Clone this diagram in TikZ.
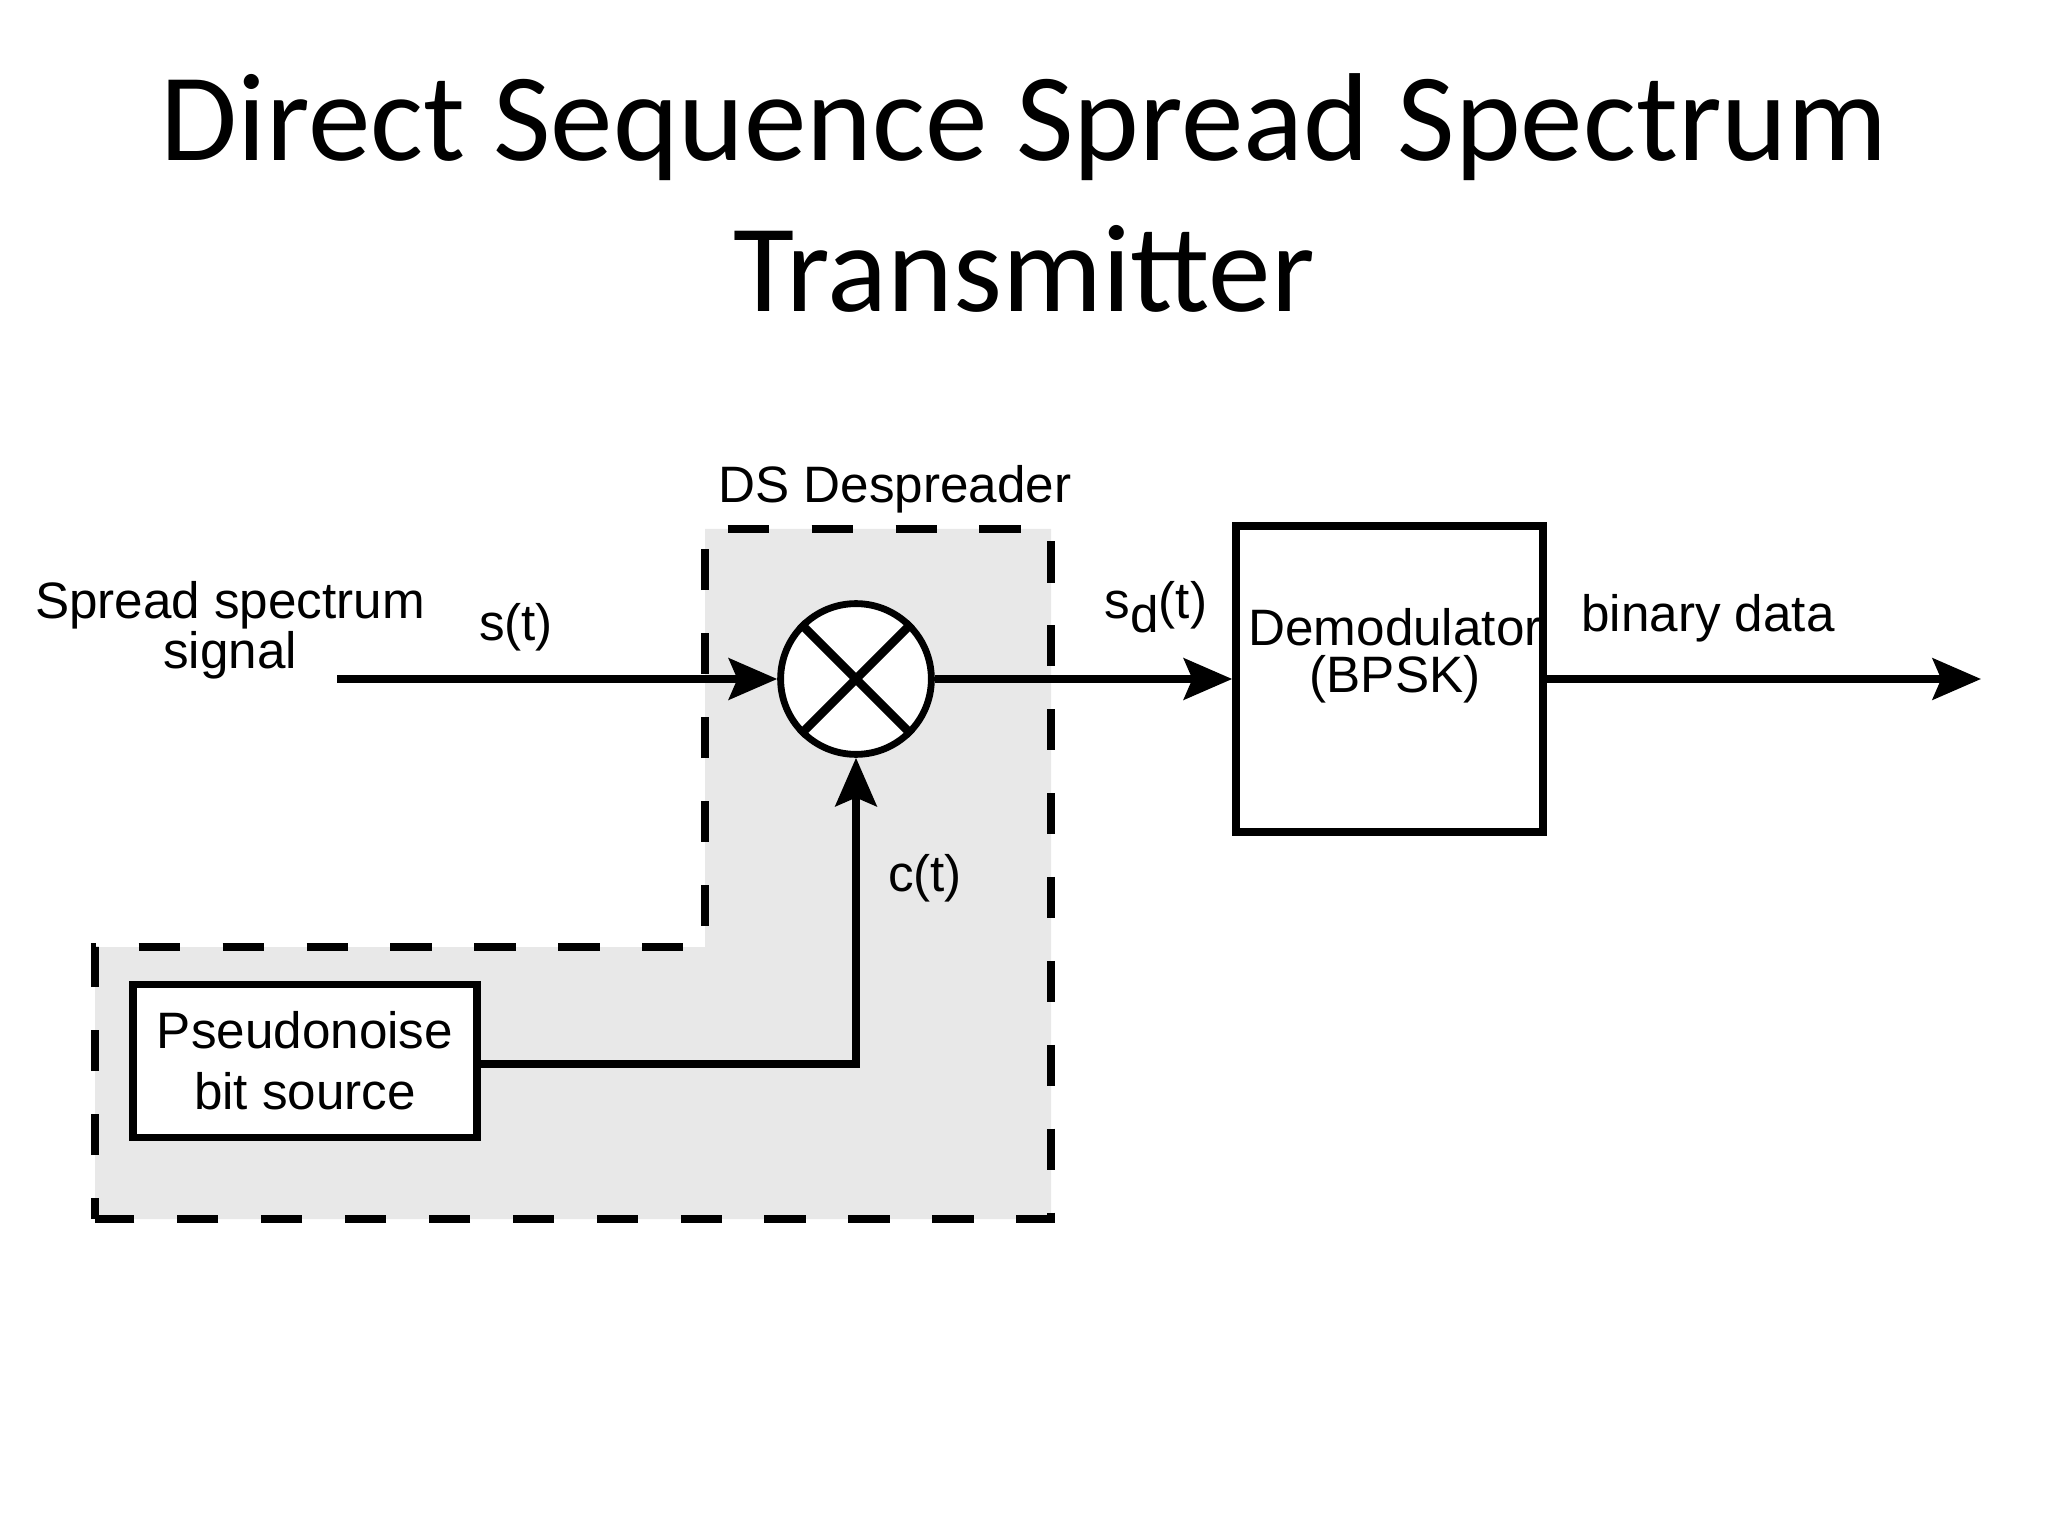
\documentclass[tikz,border=0pt]{standalone}
\usepackage{fontspec}
\setmainfont{Liberation Sans}
\newfontfamily\titlefont{Carlito}
\usetikzlibrary{arrows.meta}
\tikzset{
  lbl/.style={font=\fontsize{18}{21}\selectfont, align=center, inner sep=0pt},
  blk/.style={draw, line width=2.6pt, fill=white, inner sep=0pt, align=center, font=\fontsize{18}{21.5}\selectfont},
  sig/.style={line width=2.6pt, -{Stealth[length=17pt,width=14.5pt,inset=3pt]}},
  dsregion/.style={line width=2.9pt, dash pattern=on 14.5pt off 15pt, dash phase=7pt},
}
\begin{document}
\begin{tikzpicture}[x=0.3515625pt,y=-0.3515625pt]
\useasboundingbox (0,0) rectangle (2048,1536);
% title
\node[font=\titlefont\fontsize{44}{52.8}\selectfont, align=center, inner sep=0pt] (title) at (1024,193) {Direct Sequence Spread Spectrum\\Transmitter};
% despreader region
\fill[gray!18] (705,529) -- (1051,529) -- (1051,1219) -- (95,1219) -- (95,947) -- (705,947) -- cycle;
\draw[dsregion] (95,1219) -- (95,947) -- (705,947) -- (705,529) -- (1051,529) -- (1051,1219) -- cycle;
\node[lbl] (dslbl) at (895,489) {DS Despreader};
% multiplier
\node[circle, draw, line width=2.4pt, fill=white, minimum size=53pt, inner sep=0pt] (mix) at (856,679) {};
\draw[line width=3pt] (mix.north west) -- (mix.south east);
\draw[line width=3pt] (mix.north east) -- (mix.south west);
% blocks
\node[blk, minimum width=108pt, minimum height=107.6pt] (demod) at (1389.5,679) {};
\node[lbl, font=\fontsize{18}{16.5}\selectfont] (demodtxt) at (1395,656) {Demodulator\\(BPSK)};
\node[blk, minimum width=121pt, minimum height=53.8pt] (pn) at (305,1061) {Pseudonoise\\bit source};
% connectors
\coordinate (in) at (337,679);
\coordinate (out) at (1981,679);
\draw[sig] (in) -- (mix.west);
\draw[sig] (mix.east) -- (demod.west);
\draw[sig] (demod.east) -- (out);
\draw[sig] ([yshift=-1pt]pn.east) -| (mix.south);
% labels
\node[lbl, font=\fontsize{18}{17.5}\selectfont] (inlbl) at (230,630) {Spread spectrum\\signal};
\node[lbl] (slbl) at (516,627) {s(t)};
\node[lbl] (sdlbl) at (1156,607) {s\raisebox{-0.5ex}{d}(t)};
\node[lbl] (clbl) at (925,878) {c(t)};
\node[lbl] (binlbl) at (1708,618) {binary data};
\end{tikzpicture}
\end{document}
